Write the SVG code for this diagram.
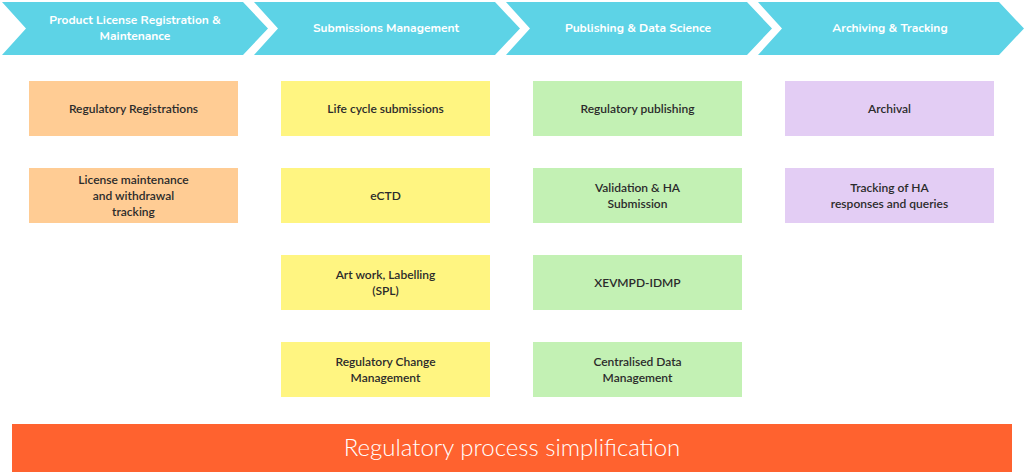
<svg xmlns="http://www.w3.org/2000/svg" width="1024" height="476" viewBox="0 0 1024 476">
<defs>
<style>
.chev{fill:#5dd3e6}
.ht{font-family:"Nunito","Lato","Open Sans",sans-serif;font-size:12px;font-weight:700;fill:#ffffff;text-anchor:middle}
.bt{font-family:"Lato","Open Sans",sans-serif;font-size:12px;font-weight:600;fill:#2b2b2b;text-anchor:middle}
.c1{fill:#ffcc94}.c2{fill:#fff581}.c3{fill:#c3f1b4}.c4{fill:#e3cdf4}
.bar{fill:#ff622f}
.bart{font-family:"Lato","Open Sans",sans-serif;font-size:24px;font-weight:300;fill:#ffffff;text-anchor:middle}
</style>
</defs>
<rect width="1024" height="476" fill="#ffffff"/>
<g id="stage1"><polygon class="chev" points="2,2 243,2 268,28.5 243,55 2,55 26,28.5"/><text class="ht" x="135" y="24">Product License Registration &amp;</text><text class="ht" x="135" y="40">Maintenance</text></g>
<g id="stage2"><polygon class="chev" points="254,2 495,2 520,28.5 495,55 254,55 278,28.5"/><text class="ht" x="386" y="32">Submissions Management</text></g>
<g id="stage3"><polygon class="chev" points="506,2 747,2 772,28.5 747,55 506,55 530,28.5"/><text class="ht" x="638" y="32">Publishing &amp; Data Science</text></g>
<g id="stage4"><polygon class="chev" points="758,2 999,2 1024,28.5 999,55 758,55 782,28.5"/><text class="ht" x="890" y="32">Archiving &amp; Tracking</text></g>
<g id="n1a"><rect class="c1" x="29" y="81" width="209" height="55"/><text class="bt" x="133.5" y="113">Regulatory Registrations</text></g>
<g id="n1b"><rect class="c1" x="29" y="168" width="209" height="55"/><text class="bt" x="133.5" y="184">License maintenance</text><text class="bt" x="133.5" y="200">and withdrawal</text><text class="bt" x="133.5" y="216">tracking</text></g>
<g id="n2a"><rect class="c2" x="281" y="81" width="209" height="55"/><text class="bt" x="385.5" y="113">Life cycle submissions</text></g>
<g id="n2b"><rect class="c2" x="281" y="168" width="209" height="55"/><text class="bt" x="385.5" y="200">eCTD</text></g>
<g id="n2c"><rect class="c2" x="281" y="255" width="209" height="55"/><text class="bt" x="385.5" y="279">Art work, Labelling</text><text class="bt" x="385.5" y="295">(SPL)</text></g>
<g id="n2d"><rect class="c2" x="281" y="342" width="209" height="55"/><text class="bt" x="385.5" y="366">Regulatory Change</text><text class="bt" x="385.5" y="382">Management</text></g>
<g id="n3a"><rect class="c3" x="533" y="81" width="209" height="55"/><text class="bt" x="637.5" y="113">Regulatory publishing</text></g>
<g id="n3b"><rect class="c3" x="533" y="168" width="209" height="55"/><text class="bt" x="637.5" y="192">Validation &amp; HA</text><text class="bt" x="637.5" y="208">Submission</text></g>
<g id="n3c"><rect class="c3" x="533" y="255" width="209" height="55"/><text class="bt" x="637.5" y="287">XEVMPD-IDMP</text></g>
<g id="n3d"><rect class="c3" x="533" y="342" width="209" height="55"/><text class="bt" x="637.5" y="366">Centralised Data</text><text class="bt" x="637.5" y="382">Management</text></g>
<g id="n4a"><rect class="c4" x="785" y="81" width="209" height="55"/><text class="bt" x="889.5" y="113">Archival</text></g>
<g id="n4b"><rect class="c4" x="785" y="168" width="209" height="55"/><text class="bt" x="889.5" y="192">Tracking of HA</text><text class="bt" x="889.5" y="208">responses and queries</text></g>
<g id="footer"><rect class="bar" x="12" y="424" width="1000" height="48"/><text class="bart" x="512" y="456">Regulatory process simplification</text></g>
<g id="connectors"></g>
</svg>
